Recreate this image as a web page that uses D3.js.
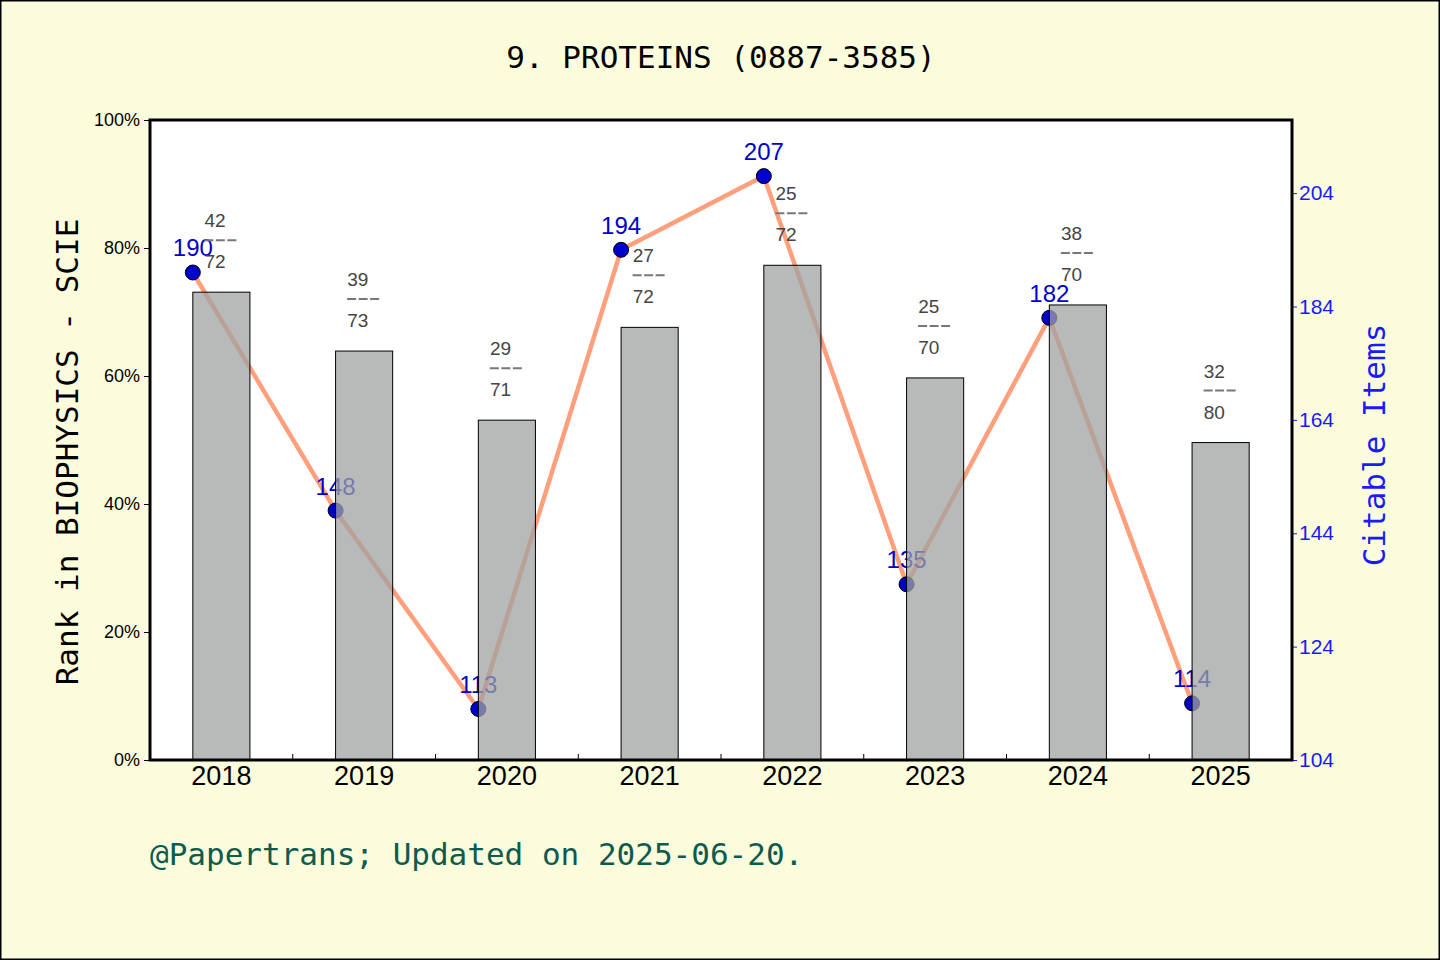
<!DOCTYPE html>
<html>
<head>
<meta charset="utf-8">
<script src="https://cdn.jsdelivr.net/npm/d3@7"></script>
<style>
  body { margin: 0; background: #fbfcdb; }
  svg { display: block; }
</style>
</head>
<body>
<script>
// data
var years = ["2018", "2019", "2020", "2021", "2022", "2023", "2024", "2025"];
var rankPct = [73.1, 63.9, 53.1, 67.6, 77.3, 59.7, 71.1, 49.6];
var rankNum = [42, 39, 29, 27, 25, 25, 38, 32];
var rankTotal = [72, 73, 71, 72, 72, 70, 70, 80];
var citable = [190, 148, 113, 194, 207, 135, 182, 114];
var pctTicks = [0, 20, 40, 60, 80, 100];
var citTicks = [104, 124, 144, 164, 184, 204];

var W = 1440, H = 960;
var plotL = 150, plotR = 1292, plotT = 120, plotB = 760;

var svg = d3.select("body").append("svg")
    .attr("width", W)
    .attr("height", H);

svg.append("rect")
    .attr("x", 0.75).attr("y", 0.75)
    .attr("width", W - 1.5).attr("height", H - 1.5)
    .attr("fill", "#fbfcdb")
    .attr("stroke", "#000")
    .attr("stroke-width", 1.5);

svg.append("rect")
    .attr("x", plotL).attr("y", plotT)
    .attr("width", plotR - plotL).attr("height", plotB - plotT)
    .attr("fill", "#fff");

var x = d3.scaleBand().domain(years).range([plotL, plotR]);
var y = d3.scaleLinear().domain([0, 100]).range([plotB, plotT]);
var y2 = d3.scaleLinear().domain([104, 216.9]).range([plotB, plotT]);
var barW = x.bandwidth() * 0.4;

// line + points (sit under the bars)
var pointX = function(d, i) { return x(years[i]) + x.bandwidth() / 2 - barW / 2; };

var line = d3.line()
    .x(function(d, i) { return pointX(d, i); })
    .y(function(d) { return y2(d); });

svg.append("path")
    .datum(citable)
    .attr("d", line)
    .attr("fill", "none")
    .attr("stroke", "#ff9f7c")
    .attr("stroke-width", 4.5)
    .attr("stroke-linejoin", "round");

svg.selectAll("circle.pt")
    .data(citable)
    .enter()
    .append("circle")
    .attr("class", "pt")
    .attr("cx", pointX)
    .attr("cy", function(d) { return y2(d); })
    .attr("r", 7.5)
    .attr("fill", "#0000cd")
    .attr("stroke", "#000")
    .attr("stroke-width", 1);

svg.selectAll("text.cit")
    .data(citable)
    .enter()
    .append("text")
    .attr("class", "cit")
    .attr("x", pointX)
    .attr("y", function(d) { return y2(d) - 16; })
    .attr("text-anchor", "middle")
    .attr("font-family", "Liberation Sans, Arial, sans-serif")
    .attr("font-size", 24)
    .attr("fill", "#0000cc")
    .text(function(d) { return d; });

// bars, semi transparent on top of the line
svg.selectAll("rect.bar")
    .data(rankPct)
    .enter()
    .append("rect")
    .attr("class", "bar")
    .attr("x", function(d, i) { return x(years[i]) + x.bandwidth() / 2 - barW / 2; })
    .attr("y", function(d) { return y(d); })
    .attr("width", barW)
    .attr("height", function(d) { return plotB - y(d); })
    .attr("fill", "rgba(160,161,162,0.75)")
    .attr("stroke", "#000")
    .attr("stroke-width", 1);

// rank labels above bars
var lab = svg.selectAll("g.rank")
    .data(rankPct)
    .enter()
    .append("g")
    .attr("class", "rank")
    .attr("transform", function(d, i) {
        return "translate(" + (x(years[i]) + x.bandwidth() / 2 - 17) + "," + y(d) + ")";
    });

lab.append("text")
    .attr("y", -65)
    .attr("font-family", "Liberation Sans, Arial, sans-serif")
    .attr("font-size", 19)
    .attr("fill", "#444")
    .text(function(d, i) { return rankNum[i]; });

lab.append("line")
    .attr("x1", 0).attr("x2", 32)
    .attr("y1", -52).attr("y2", -52)
    .attr("stroke", "#777")
    .attr("stroke-width", 2)
    .attr("stroke-dasharray", "9,2.5");

lab.append("text")
    .attr("y", -24)
    .attr("font-family", "Liberation Sans, Arial, sans-serif")
    .attr("font-size", 19)
    .attr("fill", "#444")
    .text(function(d, i) { return rankTotal[i]; });

// axes
var yAxis = d3.axisLeft(y)
    .tickValues(pctTicks)
    .tickSize(6)
    .tickPadding(4)
    .tickFormat(function(d) { return d + "%"; });

var gy = svg.append("g")
    .attr("transform", "translate(" + plotL + ",0)")
    .call(yAxis);
gy.select(".domain").remove();
gy.selectAll("text")
    .attr("font-family", "Liberation Sans, Arial, sans-serif")
    .attr("font-size", 18)
    .attr("fill", "#000");

var y2Axis = d3.axisRight(y2)
    .tickValues(citTicks)
    .tickSize(5)
    .tickPadding(2);

var gy2 = svg.append("g")
    .attr("transform", "translate(" + plotR + ",0)")
    .call(y2Axis);
gy2.select(".domain").remove();
gy2.selectAll("line").attr("stroke", "#1a1aff");
gy2.selectAll("text")
    .attr("font-family", "Liberation Sans, Arial, sans-serif")
    .attr("font-size", 21)
    .attr("fill", "#1a1aff");

var xAxis = d3.axisBottom(x).tickSize(0).tickPadding(6);
var gx = svg.append("g")
    .attr("transform", "translate(0," + plotB + ")")
    .call(xAxis);
gx.select(".domain").remove();
gx.selectAll("text")
    .attr("font-family", "Liberation Sans, Arial, sans-serif")
    .attr("font-size", 27)
    .attr("fill", "#000");

// small inward ticks on band boundaries
svg.selectAll("line.xtick")
    .data(years.slice(1))
    .enter()
    .append("line")
    .attr("class", "xtick")
    .attr("x1", function(d) { return x(d); })
    .attr("x2", function(d) { return x(d); })
    .attr("y1", plotB)
    .attr("y2", plotB - 6)
    .attr("stroke", "#000")
    .attr("stroke-width", 1);

// frame
svg.append("rect")
    .attr("x", plotL).attr("y", plotT)
    .attr("width", plotR - plotL).attr("height", plotB - plotT)
    .attr("fill", "none")
    .attr("stroke", "#000")
    .attr("stroke-width", 3);

// titles
svg.append("text")
    .attr("x", 721).attr("y", 68)
    .attr("text-anchor", "middle")
    .attr("font-family", "DejaVu Sans Mono, monospace")
    .attr("font-size", 31)
    .attr("fill", "#000")
    .text("9. PROTEINS (0887-3585)");

svg.append("text")
    .attr("transform", "translate(78,452) rotate(-90)")
    .attr("text-anchor", "middle")
    .attr("font-family", "DejaVu Sans Mono, monospace")
    .attr("font-size", 31)
    .attr("fill", "#000")
    .text("Rank in BIOPHYSICS - SCIE");

svg.append("text")
    .attr("transform", "translate(1385,445) rotate(-90)")
    .attr("text-anchor", "middle")
    .attr("font-family", "DejaVu Sans Mono, monospace")
    .attr("font-size", 31)
    .attr("fill", "#1a1aff")
    .text("Citable Items");

svg.append("text")
    .attr("x", 150).attr("y", 865)
    .attr("font-family", "DejaVu Sans Mono, monospace")
    .attr("font-size", 31)
    .attr("fill", "#0d5a4e")
    .text("@Papertrans; Updated on 2025-06-20.");
</script>
</body>
</html>
